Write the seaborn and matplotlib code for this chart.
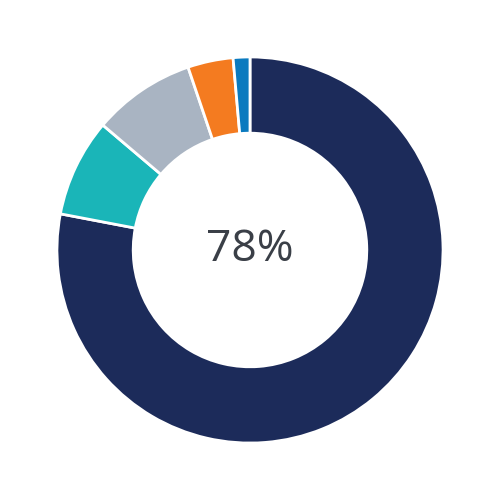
import matplotlib
matplotlib.use("Agg")
import matplotlib.pyplot as plt
import seaborn as sns

# slice shares in percent, clockwise from 12 o'clock
labels = ["Main", "Teal", "Gray", "Orange", "Blue"]
values = [78.0, 8.2, 8.6, 3.8, 1.4]
colors = ["#1c2b5a", "#1ab5b8", "#a9b4c2", "#f47b20", "#0a7abf"]
center_text = "78%"

sns.set_theme(style="white")

fig = plt.figure(figsize=(5, 5), dpi=100)
ax = fig.add_axes([0, 0, 1, 1])
ax.pie(values, colors=colors, startangle=90, counterclock=False, radius=1.0,
       wedgeprops=dict(width=0.395, edgecolor="white", linewidth=2))
ax.text(0, 0, center_text, ha="center", va="center", fontsize=32,
        color="#3a3f47", family=["Open Sans", "DejaVu Sans"])
ax.set_xlim(-1.295, 1.295)
ax.set_ylim(-1.295, 1.295)
ax.set_aspect("equal")
ax.axis("off")

fig.savefig("out.png", dpi=100, facecolor="white")
